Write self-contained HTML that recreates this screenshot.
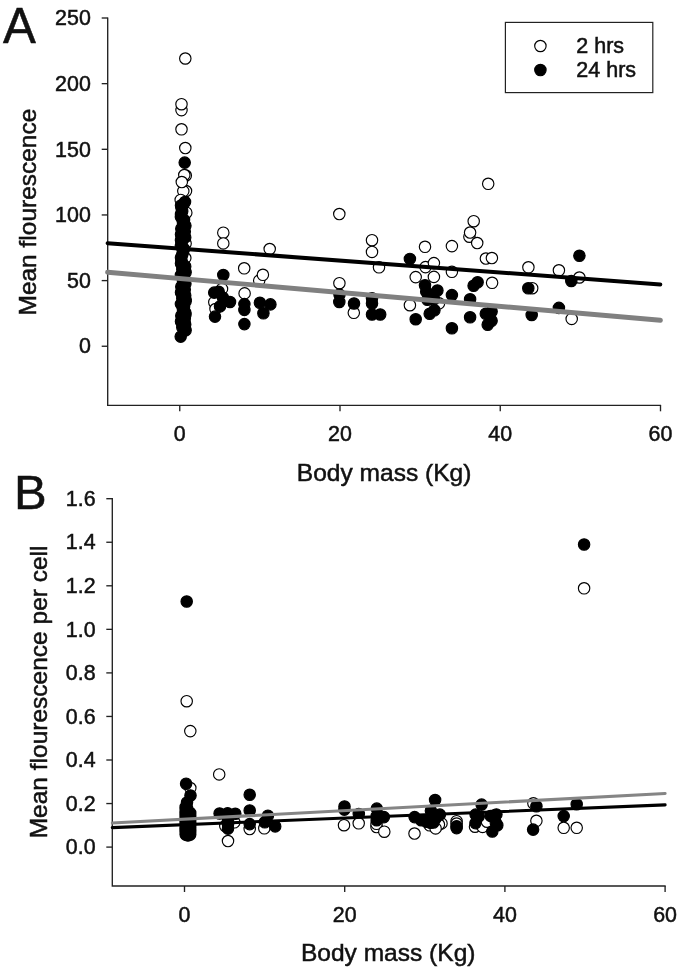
<!DOCTYPE html>
<html><head><meta charset="utf-8"><title>Figure</title>
<style>html,body{margin:0;padding:0;background:#fff}svg{display:block}</style></head>
<body>
<svg width="685" height="971" viewBox="0 0 685 971" style="display:block">
<rect width="685" height="971" fill="#fff"/>
<g font-family="'Liberation Sans', sans-serif" fill="#111" stroke="#111" stroke-width="0.5">
<text x="2.9" y="42.6" font-size="49.3" stroke="#111" stroke-width="0.5">A</text>
<text x="13.9" y="508.8" font-size="49" stroke="#111" stroke-width="0.5">B</text>
<g stroke="#222" stroke-width="1.35" fill="none">
<path d="M107.7 17.4V405.3H661.1"/>
<path d="M101.7 18H107.7"/>
<path d="M101.7 83.65H107.7"/>
<path d="M101.7 149.3H107.7"/>
<path d="M101.7 214.95H107.7"/>
<path d="M101.7 280.6H107.7"/>
<path d="M101.7 346.25H107.7"/>
<path d="M179.75 405.3V411.3"/>
<path d="M340.0 405.3V411.3"/>
<path d="M500.25 405.3V411.3"/>
<path d="M660.5 405.3V411.3"/>
<path d="M112.3 498.09999999999997V886.0H665.7"/>
<path d="M106.3 498.7H112.3"/>
<path d="M106.3 542.25H112.3"/>
<path d="M106.3 585.8H112.3"/>
<path d="M106.3 629.35H112.3"/>
<path d="M106.3 672.9H112.3"/>
<path d="M106.3 716.45H112.3"/>
<path d="M106.3 760.0H112.3"/>
<path d="M106.3 803.55H112.3"/>
<path d="M106.3 847.1H112.3"/>
<path d="M184.5 886.0V892.0"/>
<path d="M344.7 886.0V892.0"/>
<path d="M504.9 886.0V892.0"/>
<path d="M665.1 886.0V892.0"/>
</g>
<g font-size="21.4">
<text x="90.8" y="25.2" text-anchor="end">250</text>
<text x="90.8" y="90.9" text-anchor="end">200</text>
<text x="90.8" y="156.5" text-anchor="end">150</text>
<text x="90.8" y="222.1" text-anchor="end">100</text>
<text x="90.8" y="287.8" text-anchor="end">50</text>
<text x="90.8" y="353.4" text-anchor="end">0</text>
<text x="179.75" y="440.7" text-anchor="middle">0</text>
<text x="340.0" y="440.7" text-anchor="middle">20</text>
<text x="500.25" y="440.7" text-anchor="middle">40</text>
<text x="660.5" y="440.7" text-anchor="middle">60</text>
<text x="95.6" y="505.8" text-anchor="end">1.6</text>
<text x="95.6" y="549.4" text-anchor="end">1.4</text>
<text x="95.6" y="592.9" text-anchor="end">1.2</text>
<text x="95.6" y="636.5" text-anchor="end">1.0</text>
<text x="95.6" y="680.0" text-anchor="end">0.8</text>
<text x="95.6" y="723.6" text-anchor="end">0.6</text>
<text x="95.6" y="767.1" text-anchor="end">0.4</text>
<text x="95.6" y="810.6" text-anchor="end">0.2</text>
<text x="95.6" y="854.2" text-anchor="end">0.0</text>
<text x="184.5" y="921.7" text-anchor="middle">0</text>
<text x="344.7" y="921.7" text-anchor="middle">20</text>
<text x="504.9" y="921.7" text-anchor="middle">40</text>
<text x="665.1" y="921.7" text-anchor="middle">60</text>
</g>
<g font-size="24.5">
<text x="384.1" y="481" text-anchor="middle" textLength="174.6" lengthAdjust="spacingAndGlyphs">Body mass (Kg)</text>
<text x="388.2" y="960.9" text-anchor="middle" textLength="174.6" lengthAdjust="spacingAndGlyphs">Body mass (Kg)</text>
<text transform="translate(35.9 212.1) rotate(-90)" text-anchor="middle" textLength="206.8" lengthAdjust="spacingAndGlyphs">Mean flourescence</text>
<text transform="translate(47.4 691.9) rotate(-90)" text-anchor="middle" textLength="292.8" lengthAdjust="spacingAndGlyphs">Mean flourescence per cell</text>
</g>
<rect x="505.4" y="22.4" width="147.4" height="70.2" fill="#fff" stroke="#222" stroke-width="1.2"/>
<g stroke="#000" stroke-width="1.15"><circle cx="540.4" cy="46.0" r="5.7" fill="#fff"/><circle cx="540.4" cy="70.0" r="5.7" fill="#000"/></g>
<g font-size="21.5"><text x="576.3" y="52.6">2 hrs</text><text x="576.3" y="77.2">24 hrs</text></g>
</g>
<g stroke="#000" stroke-width="1.15">
<circle cx="185.3" cy="58.5" r="5.7" fill="#fff"/>
<circle cx="181.5" cy="110.1" r="5.7" fill="#fff"/>
<circle cx="181.5" cy="104.2" r="5.7" fill="#fff"/>
<circle cx="181.5" cy="129.3" r="5.7" fill="#fff"/>
<circle cx="185.3" cy="148.0" r="5.7" fill="#fff"/>
<circle cx="184.7" cy="162.6" r="5.7" fill="#000"/>
<circle cx="185.8" cy="175.5" r="5.7" fill="#fff"/>
<circle cx="184.3" cy="175.0" r="5.7" fill="#fff"/>
<circle cx="186.0" cy="191.0" r="5.7" fill="#fff"/>
<circle cx="183.3" cy="191.1" r="5.7" fill="#fff"/>
<circle cx="181.8" cy="182.0" r="5.7" fill="#fff"/>
<circle cx="180.7" cy="199.9" r="5.7" fill="#fff"/>
<circle cx="186.3" cy="212.7" r="5.7" fill="#fff"/>
<circle cx="185.0" cy="202.0" r="5.7" fill="#000"/>
<circle cx="185.6" cy="243.5" r="5.7" fill="#fff"/>
<circle cx="185.3" cy="258.0" r="5.7" fill="#fff"/>
<circle cx="181.0" cy="205.5" r="5.7" fill="#000"/>
<circle cx="181.6" cy="208.4" r="5.7" fill="#000"/>
<circle cx="182.2" cy="211.3" r="5.7" fill="#000"/>
<circle cx="181.0" cy="214.2" r="5.7" fill="#000"/>
<circle cx="180.9" cy="217.1" r="5.7" fill="#000"/>
<circle cx="184.0" cy="220.0" r="5.7" fill="#000"/>
<circle cx="183.0" cy="222.9" r="5.7" fill="#000"/>
<circle cx="185.4" cy="225.8" r="5.7" fill="#000"/>
<circle cx="181.3" cy="228.7" r="5.7" fill="#000"/>
<circle cx="184.8" cy="231.6" r="5.7" fill="#000"/>
<circle cx="181.0" cy="234.5" r="5.7" fill="#000"/>
<circle cx="185.2" cy="237.4" r="5.7" fill="#000"/>
<circle cx="181.0" cy="240.3" r="5.7" fill="#000"/>
<circle cx="181.6" cy="243.2" r="5.7" fill="#000"/>
<circle cx="180.9" cy="246.1" r="5.7" fill="#000"/>
<circle cx="184.0" cy="249.0" r="5.7" fill="#000"/>
<circle cx="183.0" cy="251.9" r="5.7" fill="#000"/>
<circle cx="182.2" cy="254.8" r="5.7" fill="#000"/>
<circle cx="181.0" cy="257.7" r="5.7" fill="#000"/>
<circle cx="181.6" cy="260.6" r="5.7" fill="#000"/>
<circle cx="181.0" cy="263.5" r="5.7" fill="#000"/>
<circle cx="185.2" cy="266.4" r="5.7" fill="#000"/>
<circle cx="182.3" cy="269.3" r="5.7" fill="#000"/>
<circle cx="185.6" cy="272.2" r="5.7" fill="#000"/>
<circle cx="180.9" cy="275.1" r="5.7" fill="#000"/>
<circle cx="184.0" cy="278.0" r="5.7" fill="#000"/>
<circle cx="183.0" cy="280.9" r="5.7" fill="#000"/>
<circle cx="185.4" cy="283.8" r="5.7" fill="#000"/>
<circle cx="181.3" cy="286.7" r="5.7" fill="#000"/>
<circle cx="184.8" cy="289.6" r="5.7" fill="#000"/>
<circle cx="181.0" cy="292.5" r="5.7" fill="#000"/>
<circle cx="185.2" cy="295.4" r="5.7" fill="#000"/>
<circle cx="182.3" cy="298.3" r="5.7" fill="#000"/>
<circle cx="185.6" cy="301.2" r="5.7" fill="#000"/>
<circle cx="180.9" cy="304.1" r="5.7" fill="#000"/>
<circle cx="184.0" cy="307.0" r="5.7" fill="#000"/>
<circle cx="183.0" cy="309.9" r="5.7" fill="#000"/>
<circle cx="185.4" cy="312.8" r="5.7" fill="#000"/>
<circle cx="181.3" cy="315.7" r="5.7" fill="#000"/>
<circle cx="184.8" cy="318.6" r="5.7" fill="#000"/>
<circle cx="181.0" cy="321.5" r="5.7" fill="#000"/>
<circle cx="185.2" cy="324.4" r="5.7" fill="#000"/>
<circle cx="182.3" cy="327.3" r="5.7" fill="#000"/>
<circle cx="185.6" cy="330.2" r="5.7" fill="#000"/>
<circle cx="185.6" cy="299.6" r="5.7" fill="#000"/>
<circle cx="185.4" cy="315.0" r="5.7" fill="#000"/>
<circle cx="184.6" cy="322.7" r="5.7" fill="#000"/>
<circle cx="184.0" cy="329.0" r="5.7" fill="#000"/>
<circle cx="180.7" cy="336.6" r="5.7" fill="#000"/>
<circle cx="223.3" cy="232.7" r="5.7" fill="#fff"/>
<circle cx="223.3" cy="243.4" r="5.7" fill="#fff"/>
<circle cx="223.3" cy="275.0" r="5.7" fill="#000"/>
<circle cx="244.2" cy="268.3" r="5.7" fill="#fff"/>
<circle cx="222.0" cy="288.9" r="5.7" fill="#fff"/>
<circle cx="214.3" cy="302.2" r="5.7" fill="#fff"/>
<circle cx="215.5" cy="309.0" r="5.7" fill="#fff"/>
<circle cx="214.2" cy="292.6" r="5.7" fill="#000"/>
<circle cx="218.7" cy="291.8" r="5.7" fill="#000"/>
<circle cx="223.0" cy="297.7" r="5.7" fill="#000"/>
<circle cx="230.0" cy="302.0" r="5.7" fill="#000"/>
<circle cx="220.0" cy="306.4" r="5.7" fill="#000"/>
<circle cx="215.0" cy="316.6" r="5.7" fill="#000"/>
<circle cx="244.6" cy="293.4" r="5.7" fill="#fff"/>
<circle cx="244.4" cy="304.1" r="5.7" fill="#000"/>
<circle cx="244.4" cy="309.9" r="5.7" fill="#000"/>
<circle cx="244.4" cy="324.1" r="5.7" fill="#000"/>
<circle cx="269.7" cy="249.0" r="5.7" fill="#fff"/>
<circle cx="259.2" cy="280.6" r="5.7" fill="#fff"/>
<circle cx="262.9" cy="274.8" r="5.7" fill="#fff"/>
<circle cx="259.9" cy="302.8" r="5.7" fill="#000"/>
<circle cx="270.4" cy="304.4" r="5.7" fill="#000"/>
<circle cx="263.4" cy="313.3" r="5.7" fill="#000"/>
<circle cx="339.3" cy="214.0" r="5.7" fill="#fff"/>
<circle cx="372.0" cy="240.2" r="5.7" fill="#fff"/>
<circle cx="372.0" cy="251.9" r="5.7" fill="#fff"/>
<circle cx="379.0" cy="267.3" r="5.7" fill="#fff"/>
<circle cx="339.4" cy="283.2" r="5.7" fill="#fff"/>
<circle cx="339.5" cy="294.6" r="5.7" fill="#000"/>
<circle cx="339.3" cy="302.0" r="5.7" fill="#000"/>
<circle cx="353.8" cy="312.8" r="5.7" fill="#fff"/>
<circle cx="354.0" cy="303.5" r="5.7" fill="#000"/>
<circle cx="372.0" cy="298.3" r="5.7" fill="#000"/>
<circle cx="372.0" cy="303.5" r="5.7" fill="#000"/>
<circle cx="372.0" cy="314.5" r="5.7" fill="#000"/>
<circle cx="380.2" cy="314.5" r="5.7" fill="#000"/>
<circle cx="425.0" cy="246.8" r="5.7" fill="#fff"/>
<circle cx="425.5" cy="267.1" r="5.7" fill="#fff"/>
<circle cx="433.9" cy="263.1" r="5.7" fill="#fff"/>
<circle cx="415.7" cy="277.1" r="5.7" fill="#fff"/>
<circle cx="433.9" cy="276.9" r="5.7" fill="#fff"/>
<circle cx="409.9" cy="258.9" r="5.7" fill="#000"/>
<circle cx="451.9" cy="246.1" r="5.7" fill="#fff"/>
<circle cx="451.9" cy="271.8" r="5.7" fill="#fff"/>
<circle cx="473.7" cy="221.2" r="5.7" fill="#fff"/>
<circle cx="469.4" cy="236.7" r="5.7" fill="#fff"/>
<circle cx="470.1" cy="232.5" r="5.7" fill="#fff"/>
<circle cx="477.2" cy="243.0" r="5.7" fill="#fff"/>
<circle cx="485.9" cy="258.5" r="5.7" fill="#fff"/>
<circle cx="491.9" cy="258.0" r="5.7" fill="#fff"/>
<circle cx="492.1" cy="282.8" r="5.7" fill="#fff"/>
<circle cx="488.2" cy="183.8" r="5.7" fill="#fff"/>
<circle cx="528.4" cy="267.3" r="5.7" fill="#fff"/>
<circle cx="532.2" cy="288.2" r="5.7" fill="#fff"/>
<circle cx="528.3" cy="288.3" r="5.7" fill="#000"/>
<circle cx="531.7" cy="315.0" r="5.7" fill="#000"/>
<circle cx="439.0" cy="303.3" r="5.7" fill="#fff"/>
<circle cx="409.9" cy="305.2" r="5.7" fill="#fff"/>
<circle cx="425.0" cy="285.3" r="5.7" fill="#000"/>
<circle cx="426.2" cy="291.6" r="5.7" fill="#000"/>
<circle cx="437.4" cy="290.5" r="5.7" fill="#000"/>
<circle cx="432.0" cy="295.0" r="5.7" fill="#000"/>
<circle cx="427.4" cy="299.8" r="5.7" fill="#000"/>
<circle cx="434.0" cy="299.3" r="5.7" fill="#000"/>
<circle cx="434.4" cy="310.3" r="5.7" fill="#000"/>
<circle cx="429.7" cy="313.8" r="5.7" fill="#000"/>
<circle cx="415.7" cy="319.2" r="5.7" fill="#000"/>
<circle cx="451.9" cy="295.1" r="5.7" fill="#000"/>
<circle cx="451.9" cy="328.3" r="5.7" fill="#000"/>
<circle cx="477.6" cy="282.3" r="5.7" fill="#000"/>
<circle cx="473.6" cy="285.8" r="5.7" fill="#000"/>
<circle cx="470.1" cy="299.3" r="5.7" fill="#000"/>
<circle cx="470.1" cy="317.3" r="5.7" fill="#000"/>
<circle cx="491.6" cy="311.5" r="5.7" fill="#000"/>
<circle cx="485.8" cy="313.8" r="5.7" fill="#000"/>
<circle cx="491.6" cy="320.8" r="5.7" fill="#000"/>
<circle cx="487.7" cy="324.8" r="5.7" fill="#000"/>
<circle cx="579.4" cy="255.8" r="5.7" fill="#000"/>
<circle cx="558.9" cy="270.3" r="5.7" fill="#fff"/>
<circle cx="579.4" cy="277.5" r="5.7" fill="#fff"/>
<circle cx="571.3" cy="281.0" r="5.7" fill="#000"/>
<circle cx="558.9" cy="307.9" r="5.7" fill="#000"/>
<circle cx="571.7" cy="318.9" r="5.7" fill="#fff"/>
</g>
<path d="M107.6 243.2L660.3 284.45" stroke="#000" stroke-width="4" stroke-linecap="round" fill="none"/>
<path d="M107.6 272.3L660.4 320.2" stroke="#808080" stroke-width="4.9" stroke-linecap="round" fill="none"/>
<g stroke="#000" stroke-width="1.15">
<circle cx="186.7" cy="601.5" r="5.7" fill="#000"/>
<circle cx="186.7" cy="701.2" r="5.7" fill="#fff"/>
<circle cx="190.3" cy="731.1" r="5.7" fill="#fff"/>
<circle cx="219.2" cy="774.4" r="5.7" fill="#fff"/>
<circle cx="190.3" cy="788.0" r="5.7" fill="#fff"/>
<circle cx="186.1" cy="783.7" r="5.7" fill="#000"/>
<circle cx="190.5" cy="795.5" r="5.7" fill="#000"/>
<circle cx="185.7" cy="807.0" r="5.7" fill="#000"/>
<circle cx="185.7" cy="809.3" r="5.7" fill="#000"/>
<circle cx="185.7" cy="811.6" r="5.7" fill="#000"/>
<circle cx="185.7" cy="813.9" r="5.7" fill="#000"/>
<circle cx="185.7" cy="816.2" r="5.7" fill="#000"/>
<circle cx="185.7" cy="818.5" r="5.7" fill="#000"/>
<circle cx="185.7" cy="820.8" r="5.7" fill="#000"/>
<circle cx="185.7" cy="823.1" r="5.7" fill="#000"/>
<circle cx="185.7" cy="825.4" r="5.7" fill="#000"/>
<circle cx="185.7" cy="827.7" r="5.7" fill="#000"/>
<circle cx="185.7" cy="830.0" r="5.7" fill="#000"/>
<circle cx="185.7" cy="832.3" r="5.7" fill="#000"/>
<circle cx="185.7" cy="834.6" r="5.7" fill="#000"/>
<circle cx="190.2" cy="813.0" r="5.7" fill="#000"/>
<circle cx="188.0" cy="813.8" r="5.7" fill="#000"/>
<circle cx="190.2" cy="815.4" r="5.7" fill="#000"/>
<circle cx="188.0" cy="816.2" r="5.7" fill="#000"/>
<circle cx="190.2" cy="817.8" r="5.7" fill="#000"/>
<circle cx="188.0" cy="818.6" r="5.7" fill="#000"/>
<circle cx="190.2" cy="820.2" r="5.7" fill="#000"/>
<circle cx="188.0" cy="821.0" r="5.7" fill="#000"/>
<circle cx="190.2" cy="822.6" r="5.7" fill="#000"/>
<circle cx="188.0" cy="823.4" r="5.7" fill="#000"/>
<circle cx="190.2" cy="825.0" r="5.7" fill="#000"/>
<circle cx="188.0" cy="825.8" r="5.7" fill="#000"/>
<circle cx="190.2" cy="827.4" r="5.7" fill="#000"/>
<circle cx="188.0" cy="828.2" r="5.7" fill="#000"/>
<circle cx="190.2" cy="829.8" r="5.7" fill="#000"/>
<circle cx="188.0" cy="830.6" r="5.7" fill="#000"/>
<circle cx="190.2" cy="832.2" r="5.7" fill="#000"/>
<circle cx="188.0" cy="833.0" r="5.7" fill="#000"/>
<circle cx="190.2" cy="834.6" r="5.7" fill="#000"/>
<circle cx="188.0" cy="835.4" r="5.7" fill="#000"/>
<circle cx="187.0" cy="802.5" r="5.7" fill="#000"/>
<circle cx="187.2" cy="808.5" r="5.7" fill="#000"/>
<circle cx="187.6" cy="835.0" r="5.7" fill="#000"/>
<circle cx="249.7" cy="794.8" r="5.7" fill="#000"/>
<circle cx="249.7" cy="810.4" r="5.7" fill="#000"/>
<circle cx="225.3" cy="826.0" r="5.7" fill="#fff"/>
<circle cx="234.3" cy="822.3" r="5.7" fill="#fff"/>
<circle cx="219.6" cy="813.5" r="5.7" fill="#000"/>
<circle cx="227.6" cy="813.2" r="5.7" fill="#000"/>
<circle cx="235.3" cy="813.8" r="5.7" fill="#000"/>
<circle cx="228.0" cy="820.8" r="5.7" fill="#000"/>
<circle cx="228.0" cy="824.6" r="5.7" fill="#000"/>
<circle cx="228.0" cy="828.6" r="5.7" fill="#000"/>
<circle cx="228.0" cy="841.0" r="5.7" fill="#fff"/>
<circle cx="249.7" cy="829.0" r="5.7" fill="#fff"/>
<circle cx="249.7" cy="824.1" r="5.7" fill="#000"/>
<circle cx="264.3" cy="828.3" r="5.7" fill="#fff"/>
<circle cx="267.9" cy="815.7" r="5.7" fill="#000"/>
<circle cx="264.8" cy="822.3" r="5.7" fill="#000"/>
<circle cx="275.2" cy="826.4" r="5.7" fill="#000"/>
<circle cx="344.5" cy="806.4" r="5.7" fill="#000"/>
<circle cx="344.4" cy="809.6" r="5.7" fill="#000"/>
<circle cx="344.0" cy="825.2" r="5.7" fill="#fff"/>
<circle cx="358.8" cy="813.9" r="5.7" fill="#000"/>
<circle cx="358.7" cy="823.3" r="5.7" fill="#fff"/>
<circle cx="376.5" cy="827.0" r="5.7" fill="#fff"/>
<circle cx="376.5" cy="823.8" r="5.7" fill="#fff"/>
<circle cx="384.3" cy="831.7" r="5.7" fill="#fff"/>
<circle cx="376.8" cy="808.6" r="5.7" fill="#000"/>
<circle cx="376.8" cy="816.0" r="5.7" fill="#000"/>
<circle cx="376.7" cy="820.2" r="5.7" fill="#000"/>
<circle cx="383.9" cy="817.1" r="5.7" fill="#000"/>
<circle cx="414.6" cy="817.1" r="5.7" fill="#000"/>
<circle cx="414.5" cy="833.5" r="5.7" fill="#fff"/>
<circle cx="435.1" cy="800.0" r="5.7" fill="#000"/>
<circle cx="441.5" cy="823.4" r="5.7" fill="#fff"/>
<circle cx="438.9" cy="824.5" r="5.7" fill="#fff"/>
<circle cx="429.7" cy="825.3" r="5.7" fill="#fff"/>
<circle cx="435.6" cy="828.4" r="5.7" fill="#fff"/>
<circle cx="430.9" cy="810.8" r="5.7" fill="#000"/>
<circle cx="439.9" cy="814.6" r="5.7" fill="#000"/>
<circle cx="421.2" cy="820.2" r="5.7" fill="#000"/>
<circle cx="426.5" cy="821.8" r="5.7" fill="#000"/>
<circle cx="430.5" cy="822.7" r="5.7" fill="#000"/>
<circle cx="433.4" cy="822.5" r="5.7" fill="#000"/>
<circle cx="435.5" cy="818.5" r="5.7" fill="#000"/>
<circle cx="456.6" cy="821.2" r="5.7" fill="#fff"/>
<circle cx="456.6" cy="823.5" r="5.7" fill="#fff"/>
<circle cx="456.6" cy="826.3" r="5.7" fill="#000"/>
<circle cx="456.6" cy="828.1" r="5.7" fill="#000"/>
<circle cx="475.0" cy="826.7" r="5.7" fill="#fff"/>
<circle cx="481.2" cy="825.3" r="5.7" fill="#fff"/>
<circle cx="488.6" cy="821.7" r="5.7" fill="#fff"/>
<circle cx="482.6" cy="826.9" r="5.7" fill="#fff"/>
<circle cx="487.0" cy="821.7" r="5.7" fill="#fff"/>
<circle cx="481.6" cy="804.6" r="5.7" fill="#000"/>
<circle cx="475.6" cy="814.6" r="5.7" fill="#000"/>
<circle cx="475.5" cy="823.1" r="5.7" fill="#000"/>
<circle cx="478.6" cy="816.5" r="5.7" fill="#000"/>
<circle cx="493.9" cy="815.5" r="5.7" fill="#000"/>
<circle cx="495.8" cy="822.8" r="5.7" fill="#000"/>
<circle cx="496.4" cy="814.4" r="5.7" fill="#000"/>
<circle cx="490.5" cy="815.9" r="5.7" fill="#000"/>
<circle cx="497.3" cy="825.2" r="5.7" fill="#000"/>
<circle cx="492.3" cy="831.5" r="5.7" fill="#000"/>
<circle cx="533.4" cy="803.3" r="5.7" fill="#fff"/>
<circle cx="536.4" cy="806.3" r="5.7" fill="#000"/>
<circle cx="536.4" cy="820.8" r="5.7" fill="#fff"/>
<circle cx="533.1" cy="829.6" r="5.7" fill="#000"/>
<circle cx="576.7" cy="804.2" r="5.7" fill="#000"/>
<circle cx="563.7" cy="816.1" r="5.7" fill="#000"/>
<circle cx="563.7" cy="827.8" r="5.7" fill="#fff"/>
<circle cx="576.7" cy="827.8" r="5.7" fill="#fff"/>
<circle cx="584.1" cy="544.5" r="5.7" fill="#000"/>
<circle cx="584.1" cy="588.3" r="5.7" fill="#fff"/>
</g>
<path d="M112.3 827.6L665.1 804.85" stroke="#000" stroke-width="3.1" stroke-linecap="round" fill="none"/>
<path d="M112.3 823.0L665.1 793.55" stroke="#858585" stroke-width="3.1" stroke-linecap="round" fill="none"/>
</svg>
</body></html>
